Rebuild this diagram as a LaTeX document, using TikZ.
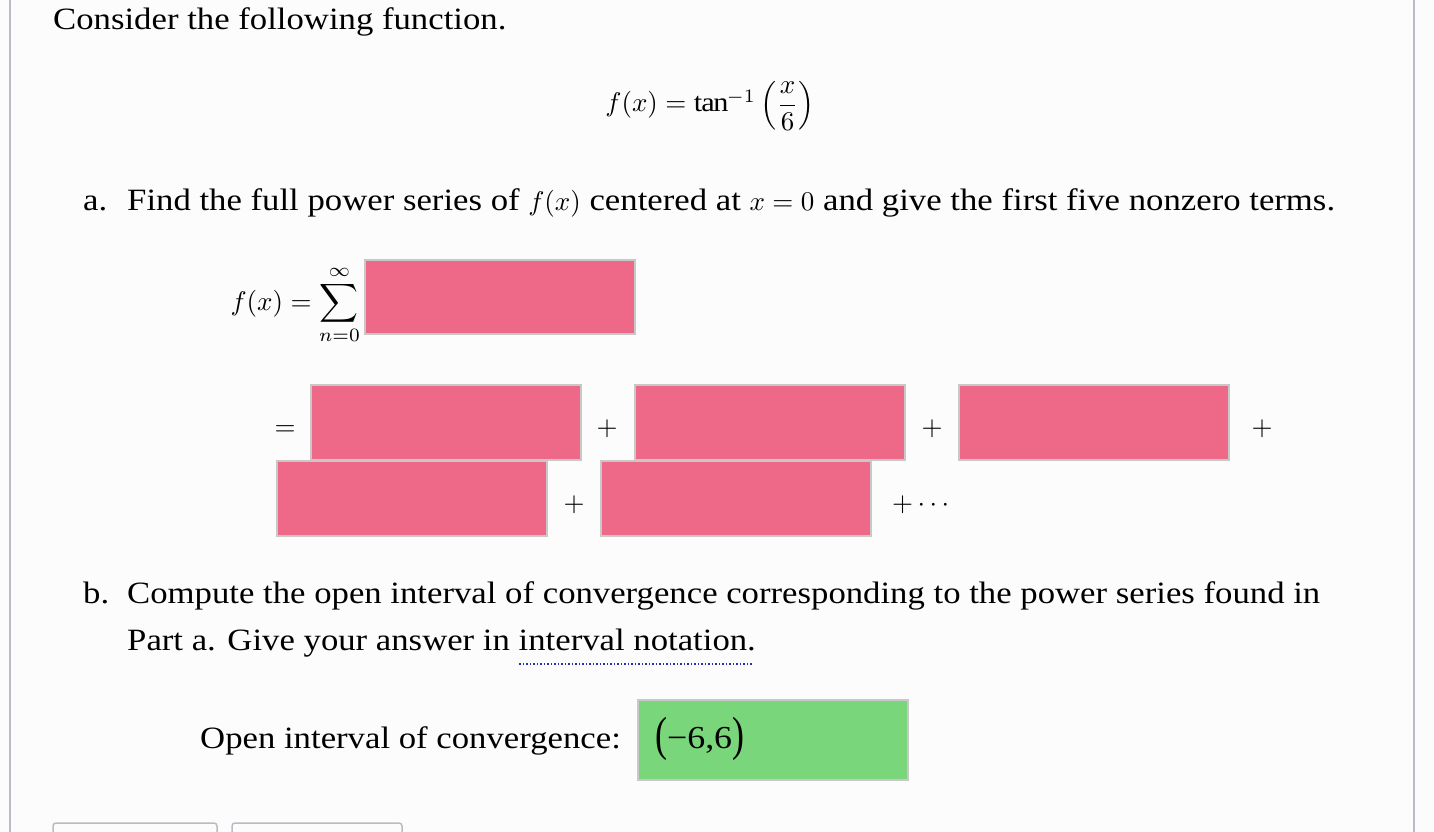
\documentclass[tikz,border=0pt]{standalone}
\usepackage{amsmath}
\usepackage{graphicx}
\usepackage{fontspec}
\setmainfont[FakeStretch=1.12]{Liberation Serif}
\newcommand\Mth[1]{\scalebox{2.7}{\normalsize$#1$}}
\begin{document}
\begin{tikzpicture}[x=1pt,y=-1pt,
  txt/.style={anchor=base west,inner sep=0pt,font=\fontsize{31}{36}\selectfont},
  pinkbox/.style={fill=boxpink,draw=boxgray,line width=1.5pt},
  greenbox/.style={fill=boxgreen,draw=boxgray,line width=1.5pt},
  mth/.style={anchor=base,inner sep=0pt}]
\definecolor{boxpink}{HTML}{EE6888}
\definecolor{boxgreen}{HTML}{7AD67A}
\definecolor{boxgray}{HTML}{C8C8C8}
\definecolor{bordergray}{HTML}{B8BCC4}
\definecolor{dotblue}{HTML}{2233BB}
\useasboundingbox[fill={rgb,255:red,252;green,252;blue,252}] (0,0) rectangle (1434,832);
\draw[bordergray,line width=1.5pt] (10,0) -- (10,832) (1414,0) -- (1414,832);
\node[txt] (t1) at (53,30) {Consider the following function.};
\node[mth] (eq) at (710,112) {\Mth{f(x)=\tan^{-1}\left(\dfrac{x}{6}\right)}};
\node[txt] (a) at (83,210) {a.};
\node[txt] (at) at (127,210) {Find the full power series of \Mth{f(x)} centered at \Mth{x=0} and give the first five nonzero terms.};
\node[mth,anchor=base east] (sum) at (360,310) {\Mth{f(x)=\displaystyle\sum_{n=0}^{\infty}}};
\draw[pinkbox] (365,260) rectangle (635,334);
\node[mth] (eq2) at (285,435) {\Mth{=}};
\draw[pinkbox] (311,385) rectangle (581,460);
\draw[pinkbox] (635,385) rectangle (905,460);
\draw[pinkbox] (959,385) rectangle (1229,460);
\node[mth] (p1) at (607,435) {\Mth{+}};
\node[mth] (p2) at (932,435) {\Mth{+}};
\node[mth] (p3) at (1262,435) {\Mth{+}};
\draw[pinkbox] (277,461) rectangle (547,536);
\draw[pinkbox] (601,461) rectangle (871,536);
\node[mth] (p4) at (574,511) {\Mth{+}};
\node[mth,anchor=base west] (p5) at (892,511) {\Mth{+\cdots}};
\node[txt] (b) at (83,603) {b.};
\node[txt] (bt) at (127,603) {Compute the open interval of convergence corresponding to the power series found in};
\node[txt] (bt2) at (127,650) {Part a. Give your answer in interval notation.};
\draw[dotblue,line width=1.5pt,dotted] (519,664) -- (752,664);
\node[txt] (oi) at (200,748) {Open interval of convergence:};
\draw[greenbox] (638,700) rectangle (908,780);
\node[txt] (ans) at (655,748) {\fontsize{32}{36}\selectfont\raisebox{-2pt}{\scalebox{1}[1.5]{(}}−6,6\raisebox{-2pt}{\scalebox{1}[1.5]{)}}};
\draw[bordergray,line width=1.5pt,rounded corners=3pt] (53,834) -- (53,823) -- (217,823) -- (217,834);
\draw[bordergray,line width=1.5pt,rounded corners=3pt] (232,834) -- (232,823) -- (402,823) -- (402,834);
\end{tikzpicture}
\end{document}
